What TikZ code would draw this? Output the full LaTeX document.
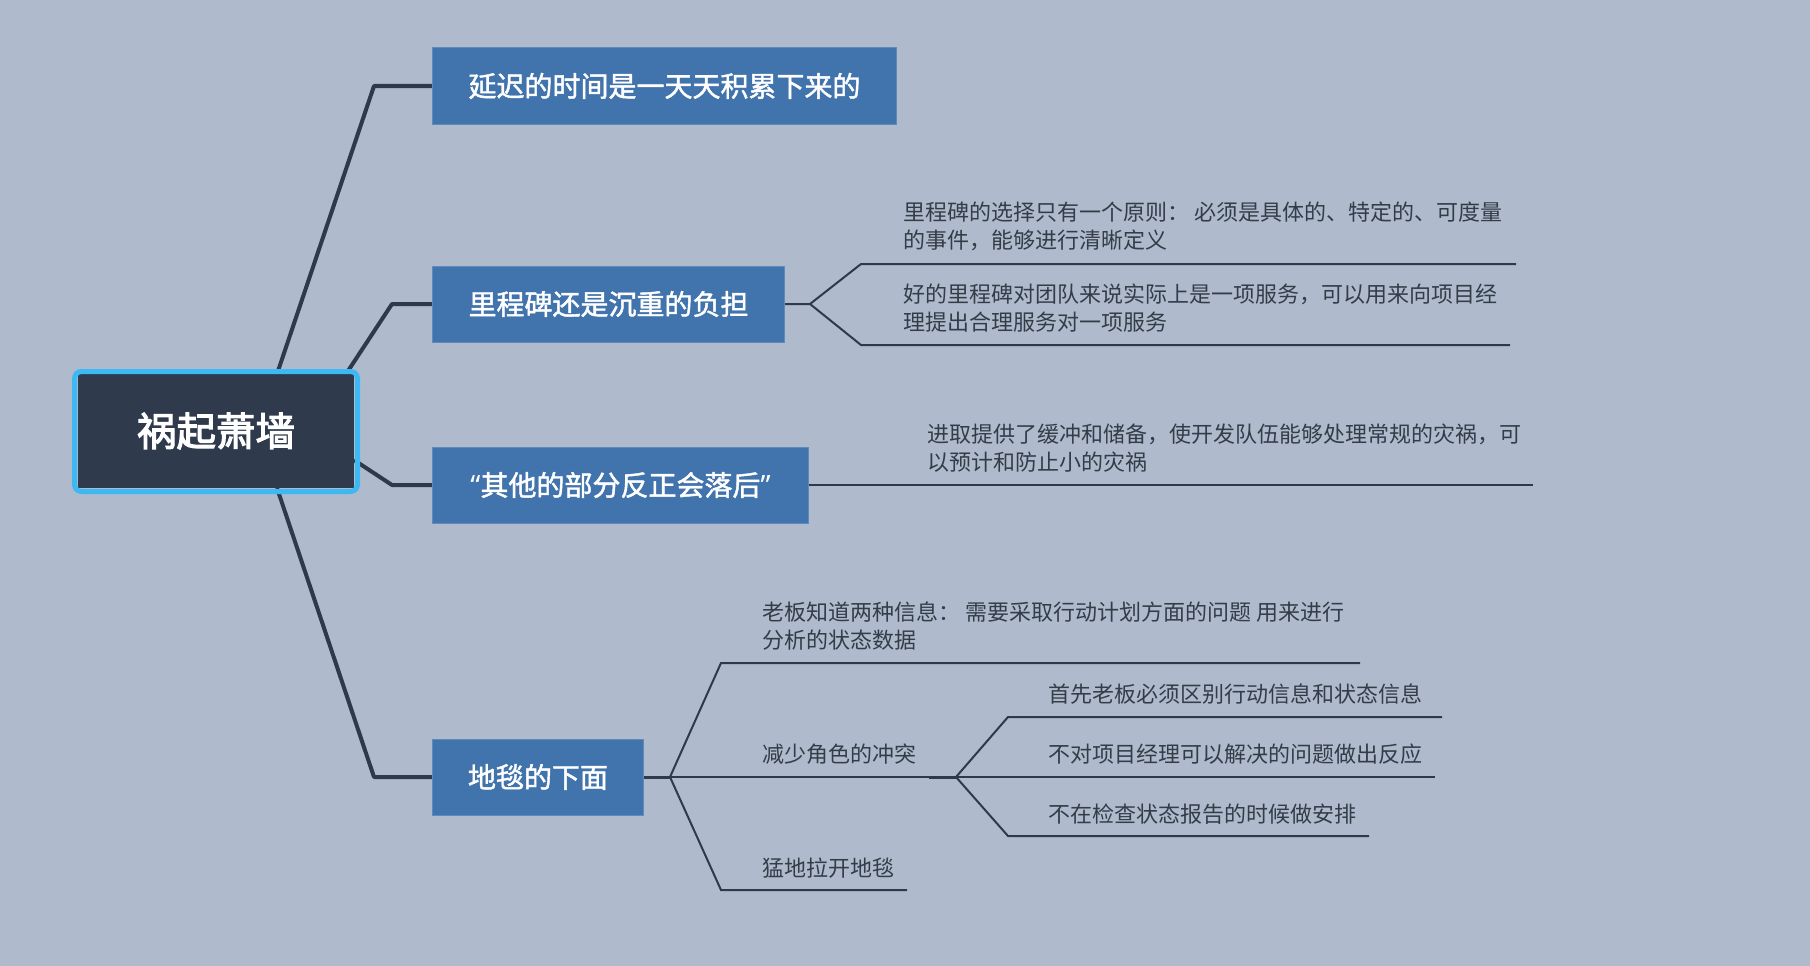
\documentclass[tikz,border=0pt]{standalone}
\usepackage{fontspec}
\setmainfont{Noto Sans CJK SC}
\newfontfamily\topicfont[FakeBold=1.6]{Noto Sans CJK SC}
\newfontfamily\rootfont[FakeBold=2.8]{Noto Sans CJK SC}
\newfontfamily\latinq{Noto Sans}
\usetikzlibrary{backgrounds}
\definecolor{bg}{RGB}{175,187,204}
\definecolor{topic}{RGB}{65,115,172}
\definecolor{topicedge}{RGB}{95,138,190}
\definecolor{rootc}{RGB}{47,59,77}
\definecolor{hl}{RGB}{60,184,245}
\definecolor{linec}{RGB}{46,58,75}
\definecolor{subtxt}{RGB}{52,60,72}
\begin{document}
\begin{tikzpicture}[x=1pt,y=-1pt,
 rootbox/.style={fill=rootc, text=white, minimum width=276pt, minimum height=114pt, inner sep=0pt, font=\rootfont\fontsize{39.5}{46}\selectfont},
 topicbox/.style={fill=topic, draw=topicedge, line width=1pt, text=white, minimum height=76pt, inner sep=0pt, anchor=west, font=\topicfont\fontsize{28}{32}\selectfont},
 subtext/.style={anchor=west, inner sep=0pt, align=left, text=subtxt, font=\fontsize{22}{28}\selectfont},
 mainline/.style={draw=linec, line width=4pt, line join=round},
 subline/.style={draw=linec, line width=2pt, line join=miter},
 hlframe/.style={draw=hl, line width=5pt, rounded corners=7pt}
]
% nodes
\node[rootbox] (root) at (216,431) {祸起萧墙};
\draw[hlframe] (74.5,371.5) rectangle (357.5,491.5);
\node[topicbox, minimum width=464pt] (b1) at (432,86) {延迟的时间是一天天积累下来的};
\node[topicbox, minimum width=352pt] (b2) at (432,304) {里程碑还是沉重的负担};
\node[topicbox, minimum width=376pt] (b3) at (432,485) {{\latinq\bfseries “}其他的部分反正会落后{\latinq\bfseries ”}};
\node[topicbox, minimum width=211pt] (b4) at (432,777) {地毯的下面};

\node[subtext] (t21) at (903,226) {里程碑的选择只有一个原则： 必须是具体的、特定的、可度量\\的事件，能够进行清晰定义};
\node[subtext] (t22) at (903,308) {好的里程碑对团队来说实际上是一项服务，可以用来向项目经\\理提出合理服务对一项服务};
\node[subtext] (t31) at (927,448) {进取提供了缓冲和储备，使开发队伍能够处理常规的灾祸，可\\以预计和防止小的灾祸};
\node[subtext] (t41) at (762,626) {老板知道两种信息： 需要采取行动计划方面的问题 用来进行\\分析的状态数据};
\node[subtext] (t42) at (762,754) {减少角色的冲突};
\node[subtext] (t43) at (762,868) {猛地拉开地毯};
\node[subtext] (t421) at (1048,694) {首先老板必须区别行动信息和状态信息};
\node[subtext] (t422) at (1048,754) {不对项目经理可以解决的问题做出反应};
\node[subtext] (t423) at (1048,814) {不在检查状态报告的时候做安排};

\begin{pgfonlayer}{background}
\fill[bg] (0,0) rectangle (1810,966);
% main branches
\coordinate (r1) at (277,374); \coordinate (k1) at (374,86);
\draw[mainline] (r1) -- (k1) -- (b1.west);
\coordinate (r2) at (346,374); \coordinate (k2) at (392,304);
\draw[mainline] (r2) -- (k2) -- (b2.west);
\coordinate (r3) at (354,460); \coordinate (k3) at (392,485);
\draw[mainline] (r3) -- (k3) -- (b3.west);
\coordinate (r4) at (277,488); \coordinate (k4) at (374,777);
\draw[mainline] (r4) -- (k4) -- (b4.west);
% branch 2
\coordinate (f2) at (810,304);
\coordinate (u2a) at (861,264); \coordinate (u2b) at (1516,264);
\coordinate (l2a) at (861,345); \coordinate (l2b) at (1510,345);
\draw[subline] (b2.east) -- (f2) -- (u2a) -- (u2b);
\draw[subline] (f2) -- (l2a) -- (l2b);
% branch 3
\coordinate (e3) at (1533,485);
\draw[subline] (b3.east) -- (e3);
% branch 4
\coordinate (f4) at (670,777);
\draw[subline, line width=3pt] (b4.east) -- (f4);
\coordinate (u4a) at (721,663); \coordinate (u4b) at (1360,663);
\draw[subline] (f4) -- (u4a) -- (u4b);
\coordinate (m4) at (929,777); \coordinate (f42) at (956,777);
\draw[subline] (f4) -- (m4);
\draw[subline, line width=3pt] (m4) -- (f42);
\coordinate (d4a) at (721,890); \coordinate (d4b) at (907,890);
\draw[subline] (f4) -- (d4a) -- (d4b);
\coordinate (s1a) at (1008,717); \coordinate (s1b) at (1442,717);
\draw[subline] (f42) -- (s1a) -- (s1b);
\coordinate (s2b) at (1435,777);
\draw[subline] (f42) -- (s2b);
\coordinate (s3a) at (1008,836); \coordinate (s3b) at (1369,836);
\draw[subline] (f42) -- (s3a) -- (s3b);
\end{pgfonlayer}
\end{tikzpicture}
\end{document}
